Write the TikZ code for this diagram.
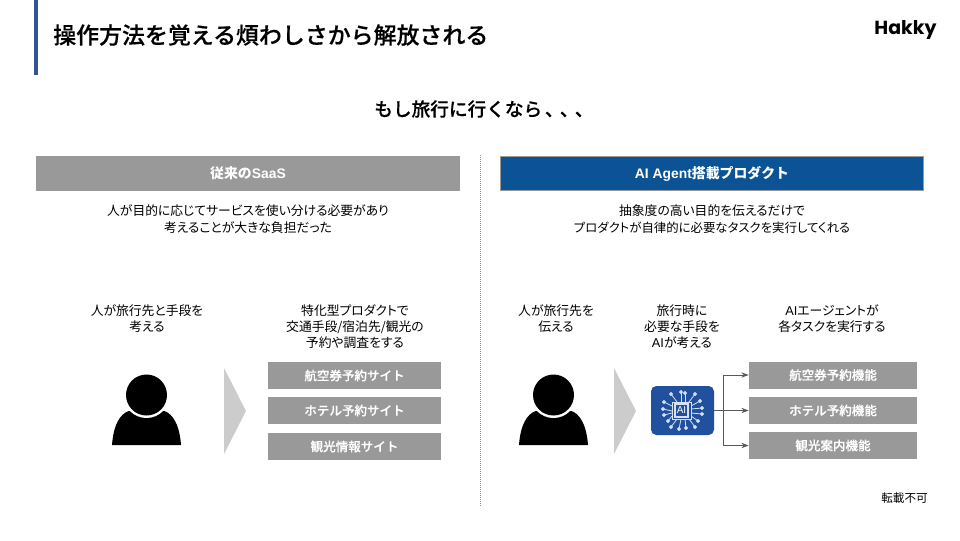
\documentclass[tikz,border=0pt]{standalone}
\usepackage{fontspec}
\setmainfont{Noto Sans CJK JP}
\newfontfamily\midfont[FakeBold=0.35]{Noto Sans CJK JP Medium}
\newfontfamily\latinfont{Liberation Sans}
\newfontfamily\logofont{Poppins}
\usepackage{xcolor}
\usetikzlibrary{arrows.meta}
\definecolor{barblue}{HTML}{2F5597}
\definecolor{headblue}{HTML}{0B5394}
\definecolor{chipblue}{HTML}{20509E}
\definecolor{boxgray}{HTML}{999999}
\definecolor{chevgray}{HTML}{CCCCCC}
\definecolor{wiregray}{HTML}{595959}
\definecolor{dotgray}{HTML}{8C8C8C}
\definecolor{traceblue}{HTML}{D5E1F2}
\tikzset{
  headbox/.style = {shape=rectangle, draw=boxgray, line width=0.5pt, text=white, font=\fontsize{10.4}{12}\selectfont\bfseries,
                    minimum width=317.5pt, minimum height=25.75pt, inner sep=0pt},
  sitebox/.style = {shape=rectangle, fill=boxgray, text=white, font=\midfont\fontsize{9.4}{12}\selectfont,
                    minimum width=129.75pt, minimum height=20.25pt, inner sep=0pt},
  funcbox/.style = {sitebox, minimum width=126pt},
  caption/.style = {align=center, inner sep=0pt, font=\addfontfeatures{RawFeature=+palt}\fontsize{9.6}{12.75}\selectfont},
  stepnote/.style = {align=center, inner sep=0pt, font=\addfontfeatures{RawFeature=+palt}\fontsize{9.6}{12}\selectfont},
  chevron/.style = {fill=chevgray},
  arrow/.style = {draw=wiregray, line width=0.7pt, -{Stealth[length=5.5pt,width=4pt]}},
  trace/.style = {draw=traceblue, line width=0.6pt},
  person/.pic = {
    \fill [black] (-34.5,25) .. controls (-33,4) and (-26,-6) .. (-18,-9)
      -- (18,-9) .. controls (26,-6) and (33,4) .. (34.5,25) -- cycle;
    \fill [white] (0,-25) circle [radius=23];
    \fill [black] (0,-25) circle [radius=20.5];
  }
}
\begin{document}
\begin{tikzpicture}[x=0.75pt,y=-0.75pt]
  \useasboundingbox (0,0) rectangle (960,540);
  \fill [barblue] (34,0) rectangle (38,75);

  \node (title) [anchor=west, inner sep=0pt, font=\midfont\fontsize{17.2}{20}\selectfont] at (53,35) {操作方法を覚える煩わしさから解放される};
  \node (logo) [anchor=center, inner sep=0pt, font=\logofont\fontsize{14.2}{18}\selectfont\bfseries] at (905.5,30) {Hakky};
  \node (lead) [anchor=west, inner sep=0pt, font=\midfont\fontsize{14}{16}\selectfont] at (374,109) {もし旅行に行くなら\kern2pt 、\kern-2.8pt 、\kern-2.8pt 、};

  \node (oldhead) [headbox, fill=boxgray] at (248,173.5) {従来の{\latinfont\bfseries SaaS}};
  \node (newhead) [headbox, fill=headblue] at (712,173.5) {{\latinfont\bfseries AI Agent}搭載プロダクト};
  \coordinate (divtop) at (480,155);
  \coordinate (divend) at (480,506);
  \draw [densely dotted, draw=dotgray, line width=0.5pt] (divtop) -- (divend);

  \node (oldtext) [caption] at (248,219) {人が目的に応じてサービスを使い分ける必要があり\\考えることが大きな負担だった};
  \node (newtext) [caption] at (712,219) {抽象度の高い目的を伝えるだけで\\{\fontsize{9.3}{12.75}\selectfont プロダクトが自律的に必要なタスクを実行してくれる}};

  \node (oldthink) [stepnote] at (147,319) {人が旅行先と手段を\\考える};
  \node (oldsite) [stepnote] at (355,327) {特化型プロダクトで\\交通手段/宿泊先/観光の\\予約や調査をする};
  \node (newtell) [stepnote] at (556,319) {人が旅行先を\\伝える};
  \node (newai) [stepnote] at (682,327) {旅行時に\\必要な手段を\\{\latinfont AI}が考える};
  \node (newrun) [stepnote] at (832,319) {{\latinfont AI}エージェントが\\各タスクを実行する};

  \pic at (146.5,420) {person};
  \pic at (553.5,420) {person};
  \fill [chevron] (224,368) -- (246,411) -- (224,454) -- cycle;
  \fill [chevron] (614,368) -- (636,411) -- (614,454) -- cycle;

  \node (air) [sitebox] at (354.5,375.5) {航空券予約サイト};
  \node (hotel) [sitebox] at (354.5,410.5) {ホテル予約サイト};
  \node (sight) [sitebox] at (354.5,446.5) {観光情報サイト};

  \node (airfn) [funcbox] at (833,375) {航空券予約機能};
  \node (hotelfn) [funcbox] at (833,410.5) {ホテル予約機能};
  \node (sightfn) [funcbox] at (833,445.5) {観光案内機能};

  \node (aibox) [shape=rectangle, rounded corners=4pt, fill=chipblue, minimum width=47.25pt, minimum height=36.75pt, inner sep=0pt] at (682.5,410.5) {};
  \foreach \ax/\ay/\bx/\by in {677/402/671/394, 681/402/681/392, 685/402/685/393, 689/402/695/394,
                               677/419/671/427, 681/419/679/429, 685/419/686/428, 689/419/695/427,
                               672/406/664/402, 672/411/663/409, 672/413/664/415, 672/416/668/421,
                               691/406/700/401, 691/409/702/408, 691/413/702/414, 691/416/698/421} {
    \draw [trace] (\ax,\ay) -- (\bx,\by);
    \draw [trace, fill=traceblue] (\bx,\by) circle [radius=1.5];
  }
  \draw [trace, fill=chipblue] (672,402) rectangle (691,419);
  \draw [trace, line width=0.9pt] (675,404) rectangle (688,417);
  \node (ailabel) [inner sep=0pt, text=white, font=\latinfont\fontsize{7.5}{8}\selectfont] at (681.5,410.5) {AI};

  \coordinate (branch) at (723,410.5);
  \draw [arrow] (aibox.east) -- (hotelfn.west);
  \draw [arrow] (branch) |- (airfn.west);
  \draw [arrow] (branch) |- (sightfn.west);

  \node (nocopy) [inner sep=0pt, font=\fontsize{8.7}{10}\selectfont] at (904.5,498) {転載不可};
\end{tikzpicture}
\end{document}
